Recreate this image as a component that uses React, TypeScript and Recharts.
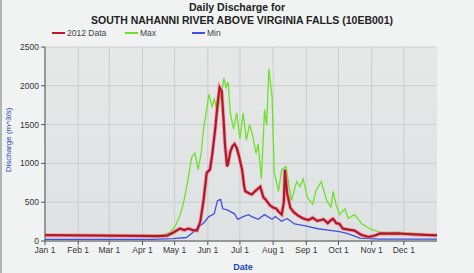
import React from "react";
import { LineChart, Line, XAxis, YAxis, CartesianGrid, Legend } from "recharts";

const monthTicks = [0, 31, 60, 91, 121, 152, 182, 213, 244, 274, 305, 335];
const monthLabels = ["Jan 1", "Feb 1", "Mar 1", "Apr 1", "May 1", "Jun 1", "Jul 1", "Aug 1", "Sep 1", "Oct 1", "Nov 1", "Dec 1"];
const yTicks = [0, 500, 1000, 1500, 2000, 2500];

const days2012 = [0, 30, 60, 90, 105, 114, 120, 126, 130, 134, 138, 142, 145, 148, 151, 154, 156, 159, 161, 163, 165, 167, 168, 170, 171, 173, 175, 177, 179, 181, 184, 186, 187, 190, 193, 196, 201, 204, 206, 210, 213, 216, 218, 221, 223, 224, 226, 229, 232, 236, 241, 246, 250, 254, 258, 260, 264, 268, 269, 272, 275, 278, 282, 289, 295, 302, 308, 313, 320, 329, 337, 344, 355, 366];
const values2012 = [75, 72, 68, 65, 62, 70, 110, 160, 140, 160, 140, 135, 250, 520, 880, 920, 1100, 1450, 1750, 1980, 1930, 1500, 1250, 960, 1000, 1150, 1220, 1250, 1200, 1100, 920, 700, 640, 620, 600, 640, 700, 560, 535, 460, 430, 415, 380, 340, 500, 920, 620, 430, 375, 330, 290, 270, 300, 260, 270, 280, 230, 280, 285, 230, 220, 160, 150, 134, 80, 52, 70, 97, 95, 97, 90, 85, 78, 73];

const daysMax = [0, 30, 60, 90, 110, 117, 122, 126, 129, 133, 137, 140, 143, 146, 148, 151, 153, 156, 158, 161, 163, 166, 167, 169, 171, 173, 176, 179, 182, 185, 188, 191, 194, 197, 199, 202, 205, 207, 209, 212, 214, 218, 221, 225, 230, 235, 238, 241, 245, 250, 253, 258, 263, 267, 269, 272, 275, 280, 283, 289, 296, 303, 313, 329, 344, 366];
const valuesMax = [80, 75, 70, 68, 80, 110, 200, 330, 470, 750, 1080, 1130, 920, 1150, 1445, 1700, 1890, 1735, 1830, 1650, 1810, 2000, 2100, 1980, 2050, 1650, 1445, 1650, 1320, 1650, 1300, 1500, 1350, 1130, 1250, 800, 1690, 1490, 2220, 1860, 890, 640, 920, 960, 520, 765, 700, 800, 560, 475, 650, 765, 520, 435, 640, 460, 340, 415, 290, 340, 220, 158, 110, 110, 97, 73];

const daysMin = [0, 60, 100, 120, 132, 138, 142, 148, 153, 158, 161, 164, 166, 170, 177, 180, 185, 190, 193, 199, 205, 212, 215, 221, 226, 233, 243, 255, 268, 275, 282, 294, 313, 366];
const valuesMin = [22, 20, 22, 30, 45, 110, 170, 230, 315, 350, 520, 535, 415, 400, 350, 280, 315, 340, 315, 280, 340, 280, 315, 255, 290, 220, 195, 158, 135, 120, 97, 36, 25, 25];

const zip = (d: number[], v: number[]) => d.map((day, i) => ({ day, value: v[i] }));
const data2012 = zip(days2012, values2012);
const dataMax = zip(daysMax, valuesMax);
const dataMin = zip(daysMin, valuesMin);

const legendItems = [
  { label: "2012 Data", color: "#c0182c", x: 52 },
  { label: "Max", color: "#6ee02a", x: 125 },
  { label: "Min", color: "#4050e0", x: 192 },
];

const renderLegend = () => (
  <svg width={474} height={12} style={{ display: "block" }}>
    {legendItems.map((it) => (
      <g key={it.label}>
        <line x1={it.x} x2={it.x + 13} y1={6} y2={6} stroke={it.color} strokeWidth={2} />
        <text x={it.x + 15} y={9} fontSize={8.5} fill="#444" fontFamily="Liberation Sans, Arial, sans-serif">
          {it.label}
        </text>
      </g>
    ))}
  </svg>
);

const font = "Liberation Sans, Arial, sans-serif";

export default function App() {
  return (
    <div style={{ position: "absolute", left: 0, top: 0, width: 474, height: 273, background: "#f1f3f3", boxSizing: "border-box", borderLeft: "2px solid #b0b4b4" }}>
      <div style={{ position: "absolute", left: -2, top: 0 }}>
        <LineChart width={474} height={273} margin={{ top: 35, right: 37, bottom: 0, left: 0 }}>
          <defs>
            <linearGradient id="bg" x1="0" y1="0" x2="0" y2="1">
              <stop offset="0%" stopColor="#e6e8e8" />
              <stop offset="100%" stopColor="#dfe2e2" />
            </linearGradient>
          </defs>
          <CartesianGrid fill="url(#bg)" stroke="#c9cdcd" strokeWidth={1} verticalValues={monthTicks} horizontalValues={yTicks} />
          <XAxis
            dataKey="day"
            type="number"
            domain={[0, 366]}
            ticks={monthTicks}
            tickFormatter={(v: number) => monthLabels[monthTicks.indexOf(v)] ?? ""}
            height={32}
            allowDuplicatedCategory={false}
            stroke="#555"
            tickSize={4}
            tick={{ fontSize: 8.5, fill: "#333", fontFamily: font }}
            interval={0}
          />
          <XAxis xAxisId="top" orientation="top" type="number" domain={[0, 366]} height={0} tick={false} tickLine={false} stroke="#888" />
          <YAxis
            type="number"
            domain={[0, 2500]}
            ticks={yTicks}
            width={45}
            stroke="#555"
            tickSize={4}
            tick={{ fontSize: 8.5, fill: "#333", fontFamily: font }}
            interval={0}
          />
          <YAxis yAxisId="right" orientation="right" width={0} tick={false} tickLine={false} stroke="#555" />
          <Legend verticalAlign="top" content={renderLegend} wrapperStyle={{ position: "absolute", top: 27, left: 0, width: 474 }} />
          <Line data={dataMin} dataKey="value" name="Min" stroke="#4050e0" strokeWidth={1.3} dot={false} isAnimationActive={false} />
          <Line data={dataMax} dataKey="value" name="Max" stroke="#6ee02a" strokeWidth={1.3} dot={false} isAnimationActive={false} />
          <Line data={data2012} dataKey="value" name="2012 Halo" stroke="#f07a90" strokeWidth={4} strokeOpacity={0.6} dot={false} legendType="none" isAnimationActive={false} />
          <Line data={data2012} dataKey="value" name="2012 Data" stroke="#b0182a" strokeWidth={2.2} dot={false} isAnimationActive={false} />
        </LineChart>
      </div>
      <svg width={474} height={273} style={{ position: "absolute", left: -2, top: 0, pointerEvents: "none" }}>
        <text x={237} y={11} textAnchor="middle" fontSize={11} fontWeight="bold" fill="#222" fontFamily={font} textLength={96} lengthAdjust="spacingAndGlyphs">
          Daily Discharge for
        </text>
        <text x={242} y={24} textAnchor="middle" fontSize={11.5} fontWeight="bold" fill="#222" fontFamily={font} textLength={302} lengthAdjust="spacingAndGlyphs">
          SOUTH NAHANNI RIVER ABOVE VIRGINIA FALLS (10EB001)
        </text>
        <text x={243} y={270} textAnchor="middle" fontSize={9} fontWeight="bold" fill="#2244bb" fontFamily={font}>
          Date
        </text>
        <text x={11} y={140} textAnchor="middle" fontSize={8} fill="#2244bb" fontFamily={font} transform="rotate(-90 11 140)">
          Discharge (m^3/s)
        </text>
      </svg>
    </div>
  );
}
